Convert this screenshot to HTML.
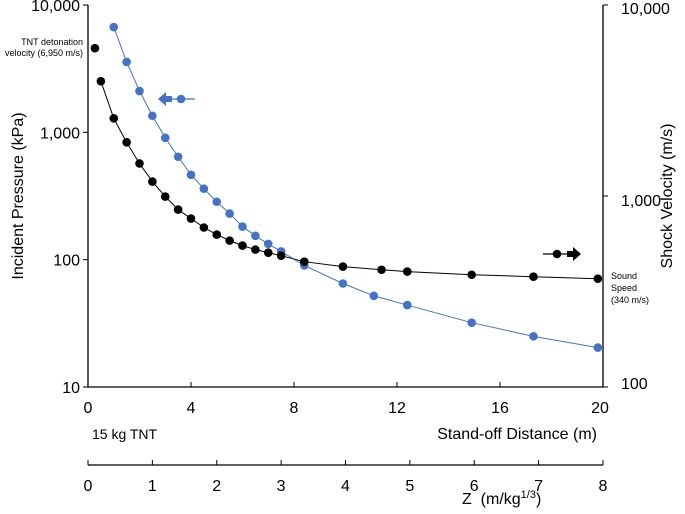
<!DOCTYPE html>
<html><head><meta charset="utf-8"><style>
html,body{margin:0;padding:0;background:#fff;}
svg{display:block;font-family:"Liberation Sans",Arial,sans-serif;}
</style></head><body>
<svg id="chart" width="685" height="514" viewBox="0 0 685 514">
<g id="axes"></g><g id="series"></g>
</svg>
<script>
const distBlue=[1.0,1.5,2.0,2.5,3.0,3.5,4.0,4.5,5.0,5.5,6.0,6.5,7.0,7.5,8.4,9.9,11.1,12.4,14.9,17.3,19.8];
const pressure=[6710,3570,2110,1350,905,643,464,361,285,230,182,154,133,116,90,65,52,44,32,25,20.4];
const distBlack=[0.27,0.5,1.0,1.5,2.0,2.5,3.0,3.5,4.0,4.5,5.0,5.5,6.0,6.5,7.0,7.5,8.4,9.9,11.4,12.4,14.9,17.3,19.8];
const velocity=[5940,3990,2550,1910,1480,1190,993,849,762,684,628,584,550,524,505,487,453,427,411,402,387,378,369];
const xTicks=[0,4,8,12,16,20];
const zTicks=[0,1,2,3,4,5,6,7,8];
const leftTicks=[10,100,1000,10000];
const rightTicks=[100,1000,10000];
const L=88,R=603,T=5,B=387;
const xs=d=>L+(d/20)*(R-L);
const zs=z=>L+(z/8)*(R-L);
const yl=p=>B-(Math.log10(p)-1)/3*(B-T);
const yr=v=>B-(Math.log10(v)-2)/2*(B-T);
const NS="http://www.w3.org/2000/svg";
function mk(tag,attrs,parent,text){const e=document.createElementNS(NS,tag);for(const k in attrs)e.setAttribute(k,attrs[k]);if(text!==undefined)e.textContent=text;parent.appendChild(e);return e;}
const ax=document.getElementById('axes'),sr=document.getElementById('series');
const fmt=n=>n.toLocaleString('en-US');
let e;
e=mk('path',{d:`M${L},${T}V${B}H${R}V${T}`,fill:'none',stroke:'#000','stroke-width':1.3},ax);

mk('line',{x1:L-5,y1:T,x2:L,y2:T,stroke:'#000'},ax);
mk('line',{x1:R,y1:T,x2:R+5,y2:T,stroke:'#000'},ax);
leftTicks.forEach(p=>{mk('line',{x1:L-5,y1:yl(p),x2:L,y2:yl(p),stroke:'#000'},ax);
 e=mk('text',{x:L-8,y:yl(p)+6,'text-anchor':'end','font-size':16},ax,fmt(p));
 });
rightTicks.forEach(v=>{mk('line',{x1:R,y1:yr(v),x2:R+5,y2:yr(v),stroke:'#000'},ax);
 e=mk('text',{x:R+18,y:yr(v)+(v==10000?9:v==100?2:10),'font-size':16},ax,fmt(v));
 });
xTicks.forEach(d=>{mk('line',{x1:xs(d),y1:B,x2:xs(d),y2:B-5,stroke:'#000'},ax);
 e=mk('text',{x:xs(d)+(d==20?-3:0),y:413,'text-anchor':'middle','font-size':16},ax,d);
 });
e=mk('line',{x1:L,y1:465,x2:R,y2:465,stroke:'#000','stroke-width':1.3},ax);

zTicks.forEach(z=>{mk('line',{x1:zs(z),y1:465,x2:zs(z),y2:460,stroke:'#000'},ax);
 e=mk('text',{x:zs(z),y:491,'text-anchor':'middle','font-size':16},ax,z);
 });
e=mk('text',{x:92,y:439,'font-size':14},ax,'15 kg TNT');
e=mk('text',{x:597,y:439,'text-anchor':'end','font-size':16},ax,'Stand-off Distance (m)');
e=mk('text',{x:462,y:504,'font-size':16,'xml:space':'preserve'},ax);
e.style.whiteSpace='pre';
mk('tspan',{},e,'Z  (m/kg');mk('tspan',{'font-size':11,dy:-6},e,'1/3');mk('tspan',{dy:6},e,')');
e=mk('text',{x:23,y:196,'text-anchor':'middle','font-size':16,transform:'rotate(-90 23 196)'},ax,'Incident Pressure (kPa)');
e=mk('text',{x:672,y:196,'text-anchor':'middle','font-size':16,transform:'rotate(-90 672 196)'},ax,'Shock Velocity (m/s)');
e=mk('text',{x:83,y:45,'text-anchor':'end','font-size':9},ax,'TNT detonation');
mk('text',{x:83,y:56,'text-anchor':'end','font-size':9},ax,'velocity (6,950 m/s)');
e=mk('text',{x:611,y:279,'font-size':9},ax,'Sound');
mk('text',{x:611,y:291,'font-size':9},ax,'Speed');mk('text',{x:611,y:303,'font-size':9},ax,'(340 m/s)');
e=mk('polyline',{points:distBlue.map((d,i)=>xs(d)+','+yl(pressure[i])).join(' '),fill:'none',stroke:'#4472c4','stroke-width':1},sr);

distBlue.forEach((d,i)=>{e=mk('circle',{cx:xs(d),cy:yl(pressure[i]),r:4.3,fill:'#4472c4'},sr);
 });
e=mk('polyline',{points:distBlack.slice(1).map((d,i)=>xs(d)+','+yr(velocity[i+1])).join(' '),fill:'none',stroke:'#000','stroke-width':1},sr);

distBlack.forEach((d,i)=>{e=mk('circle',{cx:xs(d),cy:yr(velocity[i]),r:4.3,fill:'#000'},sr);
 });
e=mk('g',{},sr);
mk('line',{x1:165,y1:99,x2:195,y2:99,stroke:'#4472c4','stroke-width':1.2},e);
mk('circle',{cx:181,cy:99,r:4.3,fill:'#4472c4'},e);
mk('path',{d:'M158,99 L166,92 V96 H172 V102 H166 V106 Z',fill:'#4472c4'},e);
e=mk('g',{},sr);
mk('line',{x1:543,y1:254,x2:570,y2:254,stroke:'#000','stroke-width':1.2},e);
mk('circle',{cx:557,cy:254,r:4.3,fill:'#000'},e);
mk('path',{d:'M581,254 L573,247 V251 H567 V257 H573 V261 Z',fill:'#000'},e);
</script>
</body></html>
